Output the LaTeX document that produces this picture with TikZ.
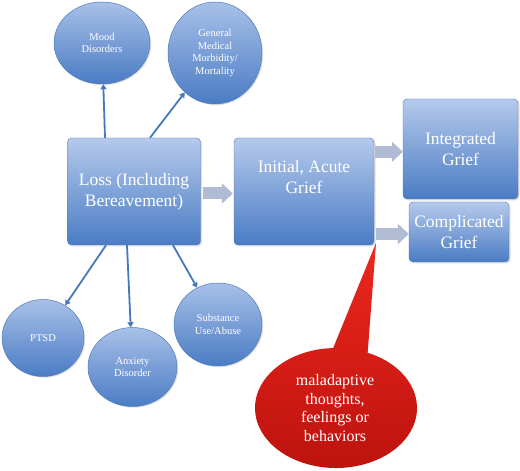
\documentclass[tikz,border=0pt]{standalone}
\usepackage{fontspec}
\setmainfont{Liberation Serif}
\usetikzlibrary{shapes.geometric,arrows.meta,calc,shadows}
\definecolor{btop}{RGB}{168,192,232}
\definecolor{bbot}{RGB}{74,124,196}
\definecolor{rtop}{RGB}{236,40,30}
\definecolor{rbot}{RGB}{188,18,14}
\definecolor{bline}{RGB}{80,125,190}
\definecolor{conncol}{RGB}{70,120,190}
\definecolor{grayarr}{RGB}{176,188,212}
\tikzset{
  oval/.style={ellipse, draw=bline, line width=0.5pt, top color=btop, bottom color=bbot,
    text=white, align=center, inner sep=0pt,
    drop shadow={opacity=0.25, shadow xshift=1.2pt, shadow yshift=-1.2pt}},
  boxnode/.style={rectangle, rounded corners=4pt, draw=bline, line width=0.4pt,
    top color=btop!85!white, bottom color=bbot, text=white, align=center, inner sep=0pt,
    drop shadow={opacity=0.25, shadow xshift=1.5pt, shadow yshift=-1.5pt}},
  smallfont/.style={font=\fontsize{10.5}{12.5}\selectfont},
  bigfont/.style={font=\fontsize{17.5}{21}\selectfont},
  conn/.style={draw=conncol, line width=1.8pt, -{Triangle[width=6pt,length=5pt]}},
  garrow/.style={draw=grayarr, line width=12pt, -{Triangle[width=20pt,length=11pt]}},
  callout/.style={top color=rtop, bottom color=rbot, draw=none},
  calltext/.style={text=white, align=center, font=\fontsize{16}{18.5}\selectfont}
}
\begin{document}
\begin{tikzpicture}[x=1pt,y=1pt]
\useasboundingbox[fill=white] (0,0) rectangle (520,471);

% callout
\coordinate (cc) at (336,63);
\coordinate (tip) at (376,228);
\path[callout] (tip) -- ($(cc)+(67:81 and 60)$) arc[start angle=67, end angle=-268, x radius=81, y radius=60] -- cycle;
\node[calltext] (mal) at (335,63) {maladaptive\\thoughts,\\feelings or\\behaviors};

% ellipses
\node[oval, smallfont, minimum width=96pt, minimum height=82pt] (mood) at (102,428) {Mood\\Disorders};
\node[oval, smallfont, minimum width=94pt, minimum height=102pt] (gen) at (215,418) {General\\Medical\\Morbidity/\\Mortality};
\node[oval, smallfont, minimum width=82pt, minimum height=77pt] (ptsd) at (43,133) {PTSD};
\node[oval, smallfont, minimum width=89pt, minimum height=79pt] (anx) at (132.5,104) {Anxiety\\Disorder};
\node[oval, smallfont, minimum width=88pt, minimum height=83pt] (subst) at (218,146.5) {Substance\\Use/Abuse};

% boxes
\node[boxnode, bigfont, minimum width=133pt, minimum height=107pt] (loss) at (134,279.5) {Loss (Including\\Bereavement)};
\node[boxnode, bigfont, minimum width=140pt, minimum height=107pt] (init) at (304,279.5) {Initial, Acute\\Grief\\[8pt]};
\node[boxnode, bigfont, minimum width=115pt, minimum height=100pt] (integ) at (460.5,322) {Integrated\\Grief};
\node[boxnode, bigfont, minimum width=100pt, minimum height=60pt] (comp) at (459,239) {Complicated\\Grief};

% connectors
\draw[conn] ([xshift=-29pt]loss.north) -- (mood);
\draw[conn] ([xshift=16pt]loss.north) -- (gen);
\draw[conn] ([xshift=-28pt]loss.south) -- (ptsd);
\draw[conn] ([xshift=-7pt]loss.south) -- (anx);
\draw[conn] ([xshift=39pt]loss.south) -- (subst);

% block arrows
\draw[garrow] ([xshift=2pt,yshift=-2pt]loss.east) -- ([xshift=-1pt,yshift=-2pt]init.west);
\coordinate (a1) at ($(init.north east)+(1,-14)$);
\draw[garrow] (a1) -- (integ.west |- a1);
\coordinate (a2) at ([xshift=2pt]init.east |- comp.west);
\draw[garrow] ([yshift=-2pt]a2) -- ([yshift=-2pt]comp.west);
\end{tikzpicture}
\end{document}
